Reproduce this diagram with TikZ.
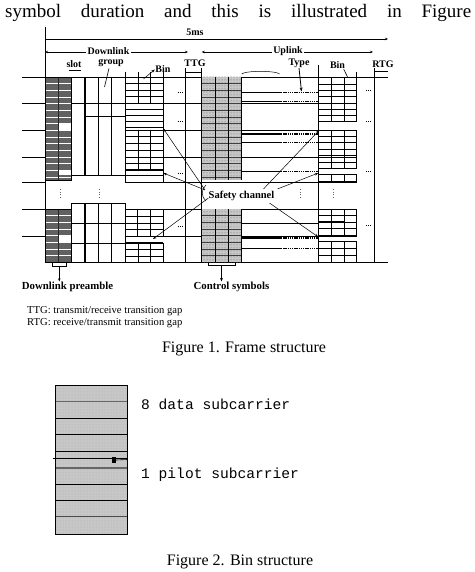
\documentclass[tikz,border=0pt]{standalone}
\usepackage{fontspec}
\setmainfont{Liberation Serif}
\newfontfamily\monof{Liberation Mono}
\usetikzlibrary{arrows.meta,patterns}
\tikzset{
  lbl/.style={font=\bfseries\fontsize{10}{11}\selectfont, inner sep=0.5pt},
  thk/.style={line width=1.3pt},
  gridln/.style={line width=0.5pt},
  tipln/.style={-{Stealth[length=3.5pt,width=2.6pt]}, line width=0.5pt},
  dotsmark/.style={line width=1pt, dash pattern=on 1pt off 1.2pt},
  vdotsmark/.style={line width=0.6pt, dash pattern=on 1pt off 1.5pt, black!60},
  dimln/.style={{Stealth[length=3pt,width=2.5pt]}-{Stealth[length=3pt,width=2.5pt]}, line width=0.8pt},
  caption/.style={font=\fontsize{16}{18}\selectfont, inner sep=0},
  legend/.style={font=\fontsize{10.6}{12}\selectfont, inner sep=0, anchor=base west},
  monolbl/.style={font=\monof\fontsize{14.6}{16}\selectfont, inner sep=0, anchor=base west},
  botlbl/.style={font=\bfseries\fontsize{10.8}{12}\selectfont, inner sep=0.5pt},
}
\begin{document}
\begin{tikzpicture}[x=1pt,y=-1pt]
\useasboundingbox (0,0) rectangle (474,572);

% ---------- top running text
\node[anchor=base west, inner sep=0, font=\fontsize{19}{22}\selectfont] (toptext) at (5,18)
  {\makebox[466pt][s]{symbol duration and this is illustrated in Figure}};

% ---------- horizontal grid lines (left stubs and centre part)
\foreach \yy in {130,157,182,209,236}{
  \draw[gridln] (22,\yy) -- (45,\yy);
  \draw[gridln] (125,\yy) -- (356.7,\yy);
}
\draw[gridln] (22,77) -- (388,77);
\draw[thk] (22,103.3) -- (318.3,103.3);
\draw[gridln] (318.3,103.3) -- (356.7,103.3);
\draw[gridln] (45,262) -- (388,262);
\draw[gridln] (241.7,223.3) -- (318.3,223.3);

% ---------- dark preamble columns
\foreach \ya/\yb/\n in {77/180/15, 209/262/7}{
  \fill[black!62] (45,\ya) rectangle (71.7,\yb);
  \foreach \k in {1,...,\n}{
    \draw[white, line width=0.6pt] (45,{\ya+\k*6.67}) -- (71.7,{\ya+\k*6.67});
  }
  \draw[black!85, line width=0.6pt] (58.3,\ya) -- (58.3,\yb);
  \draw[gridln] (45,\ya) rectangle (71.7,\yb);
}
\fill[white] (58.8,124) rectangle (71.2,129.6);
\fill[white] (58.8,170) rectangle (71.2,174.5);
\fill[white] (58.8,236.2) rectangle (71.2,242);

% ---------- slot / group area (upper)
\foreach \xx in {98.3,111.7,125}{ \draw[gridln] (\xx,77) -- (\xx,175); }
\draw[line width=1.2pt] (85,77) -- (85,175);
\draw[gridln] (85,116.7) -- (125,116.7);
\draw[gridln] (71.7,175) -- (163.3,175);
% slot / group area (lower)
\draw[gridln] (71.7,203) rectangle (125,262);
\foreach \xx in {98.3,111.7}{ \draw[gridln] (\xx,203) -- (\xx,262); }
\draw[line width=1.2pt] (85,203) -- (85,262);
\draw[gridln] (71.7,223.3) -- (125,223.3);
\draw[gridln] (71.7,243.3) -- (125,243.3);

% ---------- left bins (upper)
\draw[gridln] (125,72) -- (125,182);
\draw[gridln] (163.3,72) -- (163.3,182);
\foreach \yy in {83.5,90,96.5,109.5,115.5,121.7,127.5,136.5,143,150,163.5}{
  \draw[gridln] (125,\yy) -- (163.3,\yy);
}
\foreach \xx in {138.3,150}{
  \draw[gridln] (\xx,72) -- (\xx,103.3);
  \draw[gridln] (\xx,130) -- (\xx,170);
}
\draw[line width=1.1pt] (125,170) -- (163.3,170);
% left bins (lower)
\draw[gridln] (125,209) rectangle (163.3,236);
\foreach \yy in {216,223,229.5}{ \draw[gridln] (125,\yy) -- (163.3,\yy); }
\draw[line width=1.2pt] (137.5,209) -- (137.5,229.5);
\draw[gridln] (137.5,229.5) -- (137.5,236);
\draw[gridln] (150,209) -- (150,236);
\draw[gridln] (125,243) rectangle (163.3,262);
\draw[line width=1.1pt] (125,243) -- (163.3,243);
\foreach \yy in {249.5,256}{ \draw[gridln] (125,\yy) -- (163.3,\yy); }
\foreach \xx in {138.3,150}{ \draw[gridln] (\xx,243) -- (\xx,262); }

% ---------- control symbol columns
\foreach \ya/\yb/\n in {77/180/15, 209/262/7}{
  \fill[black!22] (201.7,\ya) rectangle (241.7,\yb);
  \fill[pattern=dots, pattern color=black!60] (201.7,\ya) rectangle (241.7,\yb);
  \foreach \k in {1,...,\n}{
    \draw[black!75, line width=0.45pt] (201.7,{\ya+\k*6.67}) -- (241.7,{\ya+\k*6.67});
  }
  \draw[gridln] (215,\ya) -- (215,\yb);
  \draw[line width=1.3pt] (228.3,\ya) -- (228.3,\yb);
  \draw[gridln] (241.7,\ya) -- (241.7,\yb);
}

% ---------- main verticals
\draw[gridln] (45,27) -- (45,262);
\draw[gridln] (185,68) -- (185,262);
\draw[line width=0.8pt] (201.7,68) -- (201.7,262);
\draw[gridln] (318.3,65) -- (318.3,262);
\draw[gridln] (374.5,68) -- (374.5,262);

% ---------- uplink "type" lines
\foreach \yy/\w in {92.3/1.3pt,101.7/1.6pt,134/1.3pt,142.7/1.3pt,171.7/1.3pt,238/1.5pt,248.3/1pt}{
  \draw[line width=\w] (241.7,\yy) -- (281,\yy);
  \draw[line width=\w, dash pattern=on 1.4pt off 0.8pt] (281,\yy) -- (318.3,\yy);
}

% ---------- right bins
\draw[gridln] (356.7,72) -- (356.7,121.7);
\foreach \yy in {84,90,96.5,109.5,115.5,121.7}{ \draw[gridln] (318.3,\yy) -- (356.7,\yy); }
\foreach \xx in {331.7,344}{ \draw[gridln] (\xx,77) -- (\xx,121.7); }
\draw[gridln] (318.3,130) rectangle (356.7,168.3);
\foreach \yy in {136.4,149.2,155.6,162}{ \draw[gridln] (318.3,\yy) -- (356.7,\yy); }
\draw[line width=1.2pt] (318.3,142.8) -- (356.7,142.8);
\foreach \xx in {331.7,344}{ \draw[gridln] (\xx,130) -- (\xx,168.3); }
\draw[gridln] (318.3,174.3) rectangle (356.7,181.7);
\foreach \xx in {331.7,344}{ \draw[gridln] (\xx,174.3) -- (\xx,181.7); }
\draw[gridln] (318.3,209) rectangle (356.7,235);
\foreach \yy in {215.5,228.5}{ \draw[gridln] (318.3,\yy) -- (356.7,\yy); }
\draw[line width=1.2pt] (318.3,222) -- (344,222);
\draw[gridln] (344,222) -- (356.7,222);
\foreach \xx in {331.7,344}{ \draw[gridln] (\xx,209) -- (\xx,235); }
\draw[gridln] (318.3,241.7) rectangle (356.7,262);
\foreach \yy in {248.5,255}{ \draw[gridln] (318.3,\yy) -- (356.7,\yy); }
\foreach \xx in {331.7,344}{ \draw[gridln] (\xx,241.7) -- (\xx,262); }

% ---------- continuation marks
\foreach \yy in {92.3,121.7,173.3,226.7}{ \draw[dotsmark] (177.5,\yy) -- (184,\yy); }
\foreach \yy in {90.7,121.7,171.7,225}{ \draw[dotsmark] (366,\yy) -- (372.5,\yy); }
\foreach \xx in {60,99,300,333}{ \draw[vdotsmark] (\xx,189) -- (\xx,198); }

% ---------- dimension lines and header labels
\node[lbl] (fivems) at (195,32.5) {5ms};
\coordinate (fa) at (45,39); \coordinate (fb) at (388,39);
\draw[line width=0.8pt, -{Stealth[length=3pt,width=2.5pt]}] (fa) -- (fb);

\coordinate (da) at (45,52); \coordinate (db) at (188,52);
\draw[dimln] (da) -- (db);
\node[lbl, fill=white, inner xsep=2pt] (downlink) at (108.5,51) {Downlink};
\coordinate (ua) at (201.7,52); \coordinate (ub) at (373,52);
\draw[dimln] (ua) -- (ub);
\node[lbl, fill=white, inner xsep=1pt] (uplink) at (288,51) {Uplink};

\node[lbl] (slot) at (74,64) {slot};
\coordinate (sa) at (68.5,70.5); \coordinate (sb) at (81,70.5);
\draw[line width=0.6pt] (sa) -- (sb);
\node[lbl] (group) at (111,63) {group};
\coordinate (gp) at (104.5,87);
\draw[line width=0.6pt] (group.south) ++(-2,1) -- (gp);
\node[lbl] (binl) at (163,69.5) {Bin};
\coordinate (bl) at (143.5,79);
\draw[tipln] (bl) -- (binl.west);
\node[lbl] (ttg) at (195,63) {TTG};
\coordinate (ta) at (185,72); \coordinate (tb) at (201.7,72);
\draw[line width=0.6pt] (ta) -- (tb);
\node[lbl] (type) at (299,63) {Type};
\coordinate (tp) at (301.5,91.5);
\draw[-{Stealth[length=4pt,width=3pt]}, line width=0.8pt] (type.south) -- (tp);
\coordinate (ba) at (241.7,74); \coordinate (bb) at (279.5,74);
\draw[line width=0.5pt] (ba) .. controls (245,70.5) and (276,70.5) .. (bb);
\node[lbl] (binr) at (337.5,65) {Bin};
\coordinate (br) at (348,78);
\draw[line width=0.6pt] (binr.south east) ++(-2,0) -- (br);
\node[lbl] (rtg) at (383,64.5) {RTG};
\coordinate (ra) at (374.5,71.5); \coordinate (rb) at (388,71.5);
\draw[line width=0.6pt] (ra) -- (rb);

% ---------- safety channel
\node[font=\bfseries\fontsize{10.5}{12}\selectfont, inner sep=1pt] (safety) at (241.5,196) {Safety channel};
\coordinate (s1) at (163.3,128.5);
\coordinate (s2) at (163.3,173);
\coordinate (s3) at (153,239);
\coordinate (s4) at (319,130.5);
\coordinate (s5) at (318.3,173);
\coordinate (s6) at (318.3,237);
\coordinate (sl) at (205,190);
\draw[tipln] (sl) -- (s1);
\draw[tipln] (sl) -- (s2);
\draw[tipln] (safety.west) ++(1,2) -- (s3);
\draw[tipln] (safety.north) ++(22,-1) -- (s4);
\draw[tipln] (safety.north) ++(36,-1) -- (s5);
\draw[tipln] (safety.south) ++(28,1) -- (s6);
\draw[line width=0.5pt] (206,185) .. controls (201,189) and (201,197) .. (206,201);

% ---------- bottom labels
\coordinate (pa) at (52.7,262); \coordinate (pb) at (66,262);
\draw[line width=0.5pt] (pa) -- ++(0,4) -| (pb);
\node[botlbl] (preamble) at (67.5,287) {Downlink preamble};
\draw[-{Stealth[length=3pt,width=2.5pt]}, line width=0.6pt] (59.3,266) -- (preamble.north -| 59.3,0);
\coordinate (ca) at (208,262); \coordinate (cb) at (235,262);
\draw[line width=0.5pt] (ca) -- ++(0,3.5) -| (cb);
\node[botlbl] (control) at (231.5,287) {Control symbols};
\draw[-{Stealth[length=3.5pt,width=3pt]}, line width=0.9pt] (221.5,265.5) -- (control.north -| 221.5,0);

% ---------- legend & caption 1
\node[legend] (ttgleg) at (27,313.5) {TTG: transmit/receive transition gap};
\node[legend] (rtgleg) at (27,325.5) {RTG: receive/transmit transition gap};
\node[caption, anchor=base] (cap1) at (244,352.5) {Figure 1. Frame structure};

% ---------- figure 2: bin structure
\fill[black!22] (55,385) rectangle (127.3,534);
\fill[pattern=dots, pattern color=black!32] (55,385) rectangle (127.3,534);
\foreach \yy in {401.5,467.7}{ \draw[black!60, line width=1.6pt] (55,\yy) -- (127.3,\yy); }
\foreach \yy in {418,434.7,484}{ \draw[black, line width=1pt] (55,\yy) -- (127.3,\yy); }
\draw[black, line width=0.8pt] (55,451.5) -- (127.3,451.5);
\draw[black, line width=1.4pt] (55,500.7) -- (127.3,500.7);
\draw[black!70, line width=0.6pt] (55,516.7) -- (127.3,516.7);
\draw[black, line width=0.5pt] (52.5,458) -- (127.3,458);
\draw[black, line width=1pt] (55,385) rectangle (127.3,534);
\node[fill=black, inner sep=0, minimum width=3.5pt, minimum height=6pt] (pilotmark) at (114.2,460) {};
\coordinate (pm) at (127.3,459.5);
\draw[line width=0.6pt] (pm) -- (pilotmark.east);
\node[monolbl] (data8) at (141,409.3) {8 data subcarrier};
\node[monolbl] (pilot1) at (141,478) {1 pilot subcarrier};
\node[caption, anchor=base] (cap2) at (240,565) {Figure 2. Bin structure};
\end{tikzpicture}
\end{document}
